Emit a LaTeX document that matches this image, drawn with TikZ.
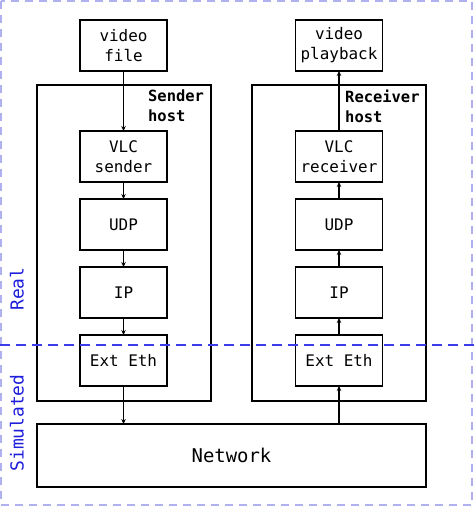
\documentclass[tikz,border=0pt]{standalone}
\usepackage{fontspec}
\newfontfamily\monofont{DejaVu Sans Mono}
\usetikzlibrary{arrows.meta, positioning}

\definecolor{frameblue}{RGB}{176,176,240}
\definecolor{splitblue}{RGB}{60,60,235}
\definecolor{labelblue}{RGB}{30,30,220}

\begin{document}
\begin{tikzpicture}[x=1bp, y=-1bp, >={Stealth[length=5bp,width=4.5bp]}, node distance=17bp,
    layer/.style={draw, line width=1.3bp, fill=white, minimum width=87bp, minimum height=51bp,
        inner sep=0pt, outer sep=0pt, align=center, font=\monofont\fontsize{16}{20}\selectfont},
    host/.style={draw, line width=1.3bp, minimum width=174bp, minimum height=316bp, inner sep=0pt},
    hostlabel/.style={anchor=north west, inner sep=0pt, align=left,
        font=\monofont\bfseries\fontsize{15.5}{20}\selectfont},
    side/.style={rotate=90, text=labelblue, font=\monofont\fontsize{18}{20}\selectfont}]
    \useasboundingbox (0,0) rectangle (474,507);

    % Rahmen und Trennlinie real / simuliert
    \draw[frameblue, line width=1.8bp, dash pattern=on 8bp off 6bp] (1,1) rectangle (472,505);

    % Hosts
    \node[host] (shost) at (124,243) {};
    \node[host] (rhost) at (339,243) {};
    \node[hostlabel] (slabel) at (148,90) {Sender\\host};
    \node[hostlabel] (rlabel) at (345,90) {Receiver\\host};

    % Sender-Stack
    \node[layer] (sfile) at (123.5,45.5) {video\\file};
    \node[layer] (svlc) [below=60bp of sfile] {VLC\\sender};
    \node[layer] (sudp) [below=of svlc] {UDP};
    \node[layer] (sip) [below=of sudp] {IP};
    \node[layer] (seth) [below=of sip] {Ext Eth};

    % Receiver-Stack
    \node[layer] (rplay) at (339,45.5) {video\\playback};
    \node[layer] (rvlc) [below=60bp of rplay] {VLC\\receiver};
    \node[layer] (rudp) [below=of rvlc] {UDP};
    \node[layer] (rip) [below=of rudp] {IP};
    \node[layer] (reth) [below=of rip] {Ext Eth};

    % Netzwerk
    \node[layer, minimum width=389bp, minimum height=63bp, font=\monofont\fontsize{19}{22}\selectfont]
        (net) at (231.5,455.5) {Network};

    % Datenfluss nach unten
    \draw[->, line width=1.1bp] (sfile) -- (svlc);
    \draw[->, line width=1.1bp] (svlc) -- (sudp);
    \draw[->, line width=1.1bp] (sudp) -- (sip);
    \draw[->, line width=1.1bp] (sip) -- (seth);
    \draw[->, line width=1.1bp] (seth) -- (seth |- net.north);

    % Datenfluss nach oben
    \draw[->, line width=1.1bp] (reth |- net.north) -- (reth);
    \draw[->, line width=1.1bp] (reth) -- (rip);
    \draw[->, line width=1.1bp] (rip) -- (rudp);
    \draw[->, line width=1.1bp] (rudp) -- (rvlc);
    \draw[->, line width=1.1bp] (rvlc) -- (rplay);

    % Bereiche
    \node[side] (real) at (17,289) {Real};
    \node[side] (sim) at (17,423) {Simulated};
    \draw[splitblue, line width=1.3bp, dash pattern=on 10bp off 6bp] (0,345) -- (474,345);
\end{tikzpicture}
\end{document}
